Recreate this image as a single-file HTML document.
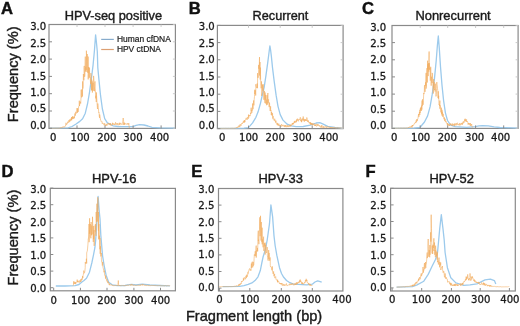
<!DOCTYPE html><html><head><meta charset="utf-8"><style>html,body{margin:0;padding:0;background:#fff;}svg{display:block;}.lt{font-family:"Liberation Sans",Arial,sans-serif;font-weight:bold;font-size:16.6px;fill:#111;stroke:#111;stroke-width:0.45px;}.ti{font-family:"Liberation Sans",Arial,sans-serif;font-size:12.7px;fill:#1a1a1a;stroke:#1a1a1a;stroke-width:0.4px;}.tk{font-family:"DejaVu Sans",sans-serif;font-size:10.1px;fill:#1a1a1a;stroke:#1a1a1a;stroke-width:0.3px;}.al{font-family:"Liberation Sans",Arial,sans-serif;font-size:14.6px;fill:#1a1a1a;stroke:#1a1a1a;stroke-width:0.4px;}.lg{font-family:"Liberation Sans",Arial,sans-serif;font-size:8.45px;fill:#1a1a1a;stroke:#1a1a1a;stroke-width:0.2px;}</style></head><body>
<svg width="520" height="326" viewBox="0 0 520 326">
<defs><filter id="bl" x="-5%" y="-5%" width="110%" height="110%"><feGaussianBlur stdDeviation="0.4"/></filter></defs>
<rect width="520" height="326" fill="#fff"/>
<rect x="49.0" y="24.5" width="126.4" height="103.9" fill="none" stroke="#8a8a8a" stroke-width="1.2"/>
<g filter="url(#bl)">
<path d="M49.5,128.2 L68.0,127.9 L72.0,126.5 L75.7,124.2 L79.8,121.4 L82.6,118.7 L85.3,113.2 L87.6,103.5 L89.5,92.4 L91.4,78.6 L93.1,64.8 L94.4,51.0 L95.6,34.9 L96.4,42.0 L97.3,51.5 L97.8,67.6 L99.1,81.4 L100.5,95.2 L102.4,109.0 L104.7,118.7 L107.4,122.8 L110.2,124.2 L113.0,125.8 L118.0,126.5 L125.0,126.6 L131.0,126.6 L133.5,126.3 L136.0,125.3 L139.6,124.6 L144.0,125.0 L148.0,126.0 L152.0,127.3 L160.0,127.9 L175.0,128.1" fill="none" stroke="#9ccaec" stroke-width="1.3" stroke-linejoin="round"/>
<path d="M49.5,128.2 L49.5,128.2 L49.8,128.2 L50.1,128.2 L50.4,128.2 L50.7,128.2 L51.0,128.2 L51.3,128.2 L51.6,128.2 L51.9,128.2 L52.2,128.2 L52.5,128.3 L52.8,128.2 L53.1,128.2 L53.4,128.2 L53.7,128.2 L54.0,128.1 L54.3,128.2 L54.6,128.2 L54.9,128.2 L55.2,128.2 L55.5,128.2 L55.8,128.0 L56.1,128.2 L56.4,128.1 L56.7,128.1 L57.0,128.0 L57.3,128.2 L57.6,128.1 L57.9,128.2 L58.2,128.2 L58.5,128.1 L58.8,128.2 L59.1,128.1 L59.4,128.2 L59.7,128.1 L60.0,128.2 L60.0,127.9 L60.3,128.1 L60.6,127.7 L60.9,127.6 L61.2,127.6 L61.5,128.0 L61.8,127.5 L62.1,127.6 L62.4,127.2 L62.7,127.4 L63.0,127.1 L63.0,126.5 L63.3,126.8 L63.6,127.0 L63.9,126.8 L64.2,127.3 L64.5,126.6 L64.8,126.7 L65.1,126.2 L65.4,126.1 L65.7,125.1 L66.0,123.4 L66.0,122.8 L66.3,124.8 L66.6,124.7 L66.9,124.3 L67.2,123.3 L67.5,123.3 L67.8,121.7 L68.1,122.9 L68.4,122.1 L68.7,121.1 L69.0,120.1 L69.3,122.0 L69.6,122.1 L69.9,119.3 L70.2,121.2 L70.5,119.9 L70.8,118.7 L71.1,119.0 L71.4,120.2 L71.6,117.2 L71.7,120.3 L72.0,117.0 L72.3,118.9 L72.6,116.2 L72.9,118.6 L73.2,116.8 L73.5,118.6 L73.8,118.7 L74.1,116.6 L74.4,118.2 L74.7,115.0 L75.0,113.4 L75.3,115.7 L75.6,112.3 L75.7,111.8 L75.9,112.7 L76.2,113.1 L76.5,113.4 L76.8,109.8 L77.1,108.0 L77.4,112.8 L77.7,108.5 L78.0,112.0 L78.3,111.0 L78.6,106.6 L78.9,106.5 L79.2,106.2 L79.3,100.7 L79.5,106.0 L79.8,104.3 L80.1,102.5 L80.4,101.7 L80.7,103.5 L81.0,97.8 L81.2,89.7 L81.3,95.5 L81.6,97.4 L81.9,89.9 L82.2,89.2 L82.5,96.5 L82.6,81.4 L82.8,88.7 L83.1,86.7 L83.4,74.0 L83.7,79.7 L84.0,80.2 L84.0,67.6 L84.3,65.9 L84.6,76.8 L84.9,75.1 L85.2,59.8 L85.3,56.6 L85.5,71.6 L85.8,66.8 L86.1,70.2 L86.4,61.5 L86.4,50.7 L86.7,70.5 L87.0,72.0 L87.2,54.0 L87.3,55.4 L87.6,57.6 L87.9,72.9 L88.1,56.6 L88.2,79.4 L88.5,67.0 L88.8,73.4 L89.1,77.9 L89.4,74.7 L89.5,67.6 L89.7,76.9 L90.0,77.0 L90.3,79.0 L90.6,83.8 L90.9,79.8 L90.9,73.1 L91.2,82.8 L91.5,90.3 L91.8,79.7 L92.1,90.5 L92.2,81.4 L92.4,92.5 L92.7,85.6 L93.0,83.1 L93.3,90.8 L93.6,81.2 L93.6,75.9 L93.9,81.4 L94.2,86.5 L94.5,91.2 L94.8,83.1 L95.0,81.4 L95.1,88.1 L95.4,90.4 L95.7,98.4 L96.0,95.7 L96.3,102.0 L96.4,92.4 L96.6,96.6 L96.9,100.6 L97.2,105.4 L97.5,109.0 L97.8,107.7 L97.8,103.5 L98.1,107.5 L98.4,108.2 L98.7,112.5 L99.0,112.0 L99.3,116.5 L99.6,117.9 L99.7,114.5 L99.9,116.2 L100.2,117.5 L100.5,120.1 L100.8,120.3 L101.1,121.4 L101.4,121.0 L101.7,121.3 L101.9,121.4 L102.0,122.4 L102.3,123.8 L102.6,122.8 L102.9,123.2 L103.2,123.5 L103.5,123.7 L103.8,123.9 L104.1,125.2 L104.4,123.6 L104.7,123.2 L104.7,123.2 L105.0,125.7 L105.3,125.5 L105.6,125.7 L105.9,124.5 L106.2,125.6 L106.5,125.5 L106.8,123.9 L107.1,125.1 L107.4,125.3 L107.7,124.9 L108.0,124.5 L108.1,123.0 L108.3,124.0 L108.6,124.1 L108.9,123.8 L109.2,123.3 L109.5,124.6 L109.8,123.9 L110.1,125.1 L110.4,123.1 L110.7,125.3 L111.0,124.8 L111.3,125.3 L111.6,125.2 L111.9,125.2 L112.2,124.5 L112.3,122.8 L112.5,122.9 L112.8,124.8 L113.1,123.3 L113.4,123.6 L113.7,124.5 L114.0,124.1 L114.3,123.8 L114.6,124.9 L114.9,124.2 L115.2,123.5 L115.5,123.2 L115.6,122.3 L115.8,124.6 L116.1,123.8 L116.4,124.5 L116.7,123.6 L117.0,123.2 L117.3,124.1 L117.6,124.7 L117.9,123.2 L118.2,124.8 L118.5,125.1 L118.8,124.9 L119.1,124.9 L119.4,122.8 L119.7,124.6 L120.0,125.1 L120.0,122.8 L120.3,123.0 L120.6,123.6 L120.9,123.6 L121.2,124.2 L121.5,123.9 L121.8,124.0 L122.1,124.7 L122.4,122.5 L122.5,122.5 L122.7,121.5 L123.0,119.8 L123.2,118.0 L123.3,119.2 L123.6,120.9 L123.9,125.0 L123.9,122.5 L124.2,124.8 L124.5,122.9 L124.8,124.1 L125.1,123.7 L125.4,123.7 L125.7,123.8 L126.0,124.5 L126.3,124.4 L126.6,123.9 L126.9,123.5 L127.2,123.9 L127.5,123.4 L127.8,124.5 L128.1,124.9 L128.4,124.2 L128.7,123.3 L128.8,123.0 L129.0,125.6 L129.3,128.0 L129.3,127.8" fill="none" stroke="#f1ad5e" stroke-width="0.7" stroke-opacity="0.85" stroke-linejoin="round"/>
</g>
<path d="M49.0,24.5h3M49.0,41.8h3M49.0,59.1h3M49.0,76.4h3M49.0,93.7h3M49.0,111.0h3M49.0,128.3h3M77.0,128.4v-3M105.0,128.4v-3M133.1,128.4v-3M161.1,128.4v-3" stroke="#8a8a8a" stroke-width="1" fill="none"/>
<path d="M175.4,24.5h-2.5M175.4,41.8h-2.5M175.4,59.1h-2.5M175.4,76.4h-2.5M175.4,93.7h-2.5M175.4,111.0h-2.5M175.4,128.3h-2.5M77.0,24.5v2.5M105.0,24.5v2.5M133.1,24.5v2.5M161.1,24.5v2.5" stroke="#c4c4c4" stroke-width="0.9" fill="none"/>
<text class="lt" x="1.0" y="13.9">A</text>
<text class="ti" x="64.7" y="19.8" style="font-size:12.8px">HPV-seq positive</text>
<text class="tk" x="46.2" y="30.3" text-anchor="end">3.0</text>
<text class="tk" x="46.2" y="46.7" text-anchor="end">2.5</text>
<text class="tk" x="46.2" y="63.1" text-anchor="end">2.0</text>
<text class="tk" x="46.2" y="79.5" text-anchor="end">1.5</text>
<text class="tk" x="46.2" y="96.0" text-anchor="end">1.0</text>
<text class="tk" x="46.2" y="112.4" text-anchor="end">0.5</text>
<text class="tk" x="46.2" y="128.8" text-anchor="end">0.0</text>
<text class="tk" x="53.3" y="141" text-anchor="middle">0</text>
<text class="tk" x="80.1" y="141" text-anchor="middle">100</text>
<text class="tk" x="106.8" y="141" text-anchor="middle">200</text>
<text class="tk" x="133" y="141" text-anchor="middle">300</text>
<text class="tk" x="159.6" y="141" text-anchor="middle">400</text>
<rect x="217.4" y="25.4" width="125.7" height="103.2" fill="none" stroke="#8a8a8a" stroke-width="1.2"/>
<g filter="url(#bl)">
<path d="M217.6,128.4 L244.0,128.1 L248.5,127.6 L252.6,122.9 L255.9,117.3 L258.1,111.8 L260.4,103.5 L262.3,95.2 L264.2,87.0 L265.9,75.9 L267.8,62.1 L269.2,51.0 L269.9,45.8 L270.6,50.0 L271.4,56.6 L272.5,67.6 L274.2,81.4 L276.1,95.2 L278.0,106.3 L280.2,114.6 L283.0,120.1 L287.2,124.2 L291.3,125.8 L296.0,126.7 L303.2,126.5 L310.4,125.2 L316.2,123.0 L319.8,122.6 L322.7,123.8 L327.7,126.4 L334.9,127.4 L342.8,128.1" fill="none" stroke="#9ccaec" stroke-width="1.3" stroke-linejoin="round"/>
<path d="M217.6,128.4 L217.6,128.4 L217.9,128.4 L218.2,128.4 L218.5,128.4 L218.8,128.4 L219.1,128.4 L219.4,128.4 L219.7,128.4 L220.0,128.4 L220.3,128.4 L220.6,128.4 L220.9,128.4 L221.2,128.4 L221.5,128.4 L221.8,128.4 L222.1,128.4 L222.4,128.4 L222.7,128.4 L223.0,128.4 L223.3,128.3 L223.6,128.4 L223.9,128.4 L224.2,128.3 L224.5,128.4 L224.8,128.3 L225.1,128.3 L225.4,128.3 L225.7,128.3 L226.0,128.4 L226.3,128.3 L226.6,128.4 L226.9,128.3 L227.2,128.3 L227.5,128.4 L227.8,128.3 L228.1,128.3 L228.4,128.3 L228.7,128.3 L229.0,128.3 L229.3,128.3 L229.6,128.4 L229.9,128.3 L230.2,128.3 L230.5,128.3 L230.8,128.3 L231.1,128.3 L231.4,128.3 L231.7,128.2 L232.0,128.3 L232.3,128.2 L232.6,128.3 L232.9,128.2 L233.2,128.3 L233.5,128.2 L233.8,128.3 L234.0,128.2 L234.1,128.2 L234.4,128.2 L234.7,128.2 L235.0,128.1 L235.3,128.0 L235.6,128.0 L235.9,127.9 L236.2,127.9 L236.5,127.5 L236.8,127.7 L237.0,127.2 L237.1,127.4 L237.4,127.9 L237.7,127.9 L238.0,126.4 L238.3,126.4 L238.6,127.2 L238.9,126.8 L239.2,125.2 L239.5,126.8 L239.8,127.1 L240.1,125.6 L240.2,124.2 L240.4,125.1 L240.7,125.4 L241.0,125.9 L241.3,124.0 L241.6,123.8 L241.9,123.2 L242.2,124.0 L242.5,123.3 L242.8,122.5 L243.1,122.5 L243.4,121.2 L243.7,121.7 L244.0,123.0 L244.3,120.1 L244.3,121.8 L244.6,120.7 L244.9,122.1 L245.2,120.3 L245.5,119.6 L245.8,118.4 L246.1,118.5 L246.4,118.3 L246.7,118.1 L247.0,120.0 L247.3,117.5 L247.6,117.1 L247.9,118.2 L248.2,119.0 L248.5,114.6 L248.5,116.2 L248.8,117.6 L249.1,115.3 L249.4,115.5 L249.7,115.1 L250.0,116.1 L250.3,114.7 L250.6,112.8 L250.9,114.0 L251.2,107.7 L251.2,110.7 L251.5,110.0 L251.8,112.9 L252.1,109.6 L252.4,110.4 L252.6,103.5 L252.7,106.1 L253.0,109.2 L253.3,105.4 L253.6,100.5 L253.9,105.4 L254.2,99.6 L254.5,96.5 L254.8,89.7 L254.8,94.0 L255.1,90.3 L255.4,90.4 L255.7,95.5 L255.9,84.2 L256.0,86.5 L256.3,86.7 L256.6,87.8 L256.9,87.7 L257.2,83.5 L257.5,88.2 L257.6,73.1 L257.8,77.7 L258.1,77.9 L258.4,77.0 L258.7,64.9 L258.7,68.8 L259.0,68.4 L259.3,63.8 L259.5,57.1 L259.6,75.5 L259.9,65.7 L260.0,62.0 L260.2,79.5 L260.4,67.6 L260.5,74.6 L260.8,85.2 L261.1,88.3 L261.4,86.9 L261.5,81.4 L261.7,95.9 L262.0,92.8 L262.3,91.9 L262.6,84.6 L262.9,90.8 L263.1,84.2 L263.2,89.5 L263.5,93.3 L263.8,99.6 L264.1,99.8 L264.4,90.9 L264.7,99.7 L265.0,103.1 L265.1,92.5 L265.3,99.8 L265.6,94.9 L265.9,103.6 L266.2,99.6 L266.5,105.2 L266.8,104.5 L267.0,95.2 L267.1,104.2 L267.4,104.6 L267.7,94.8 L267.9,93.0 L268.0,103.1 L268.3,100.6 L268.6,99.4 L268.6,101.3 L268.9,104.6 L269.2,107.1 L269.5,102.6 L269.8,107.7 L270.1,110.9 L270.4,109.8 L270.6,106.3 L270.7,110.8 L271.0,110.2 L271.3,115.0 L271.6,111.9 L271.9,115.1 L272.2,115.8 L272.5,113.2 L272.5,113.2 L272.8,118.6 L273.1,116.1 L273.4,119.6 L273.7,119.9 L274.0,120.3 L274.3,120.7 L274.6,120.0 L274.7,118.7 L274.9,120.6 L275.2,120.7 L275.5,122.5 L275.8,120.5 L276.1,121.3 L276.4,123.8 L276.7,123.9 L277.0,124.1 L277.3,125.1 L277.5,122.9 L277.6,124.5 L277.9,125.3 L278.2,124.5 L278.5,125.6 L278.8,123.6 L279.1,124.8 L279.4,125.2 L279.7,125.8 L280.0,125.0 L280.3,125.7 L280.6,126.4 L280.9,125.3 L281.2,124.8 L281.5,124.3 L281.6,124.2 L281.8,126.5 L282.1,125.7 L282.4,125.5 L282.7,125.9 L283.0,124.9 L283.3,125.3 L283.6,125.3 L283.9,125.4 L284.2,126.9 L284.5,125.5 L284.8,125.1 L285.1,127.1 L285.4,126.4 L285.7,125.0 L286.0,126.8 L286.3,126.9 L286.6,126.8 L286.9,127.1 L287.2,125.1 L287.2,126.3 L287.5,125.8 L287.8,127.0 L288.1,126.7 L288.4,126.8 L288.7,125.5 L289.0,125.9 L289.3,126.6 L289.6,125.8 L289.9,126.3 L290.2,124.5 L290.2,125.9 L290.5,126.3 L290.8,125.1 L291.1,125.2 L291.4,125.7 L291.7,124.3 L292.0,123.6 L292.3,124.6 L292.6,123.0 L292.9,124.5 L293.2,122.9 L293.5,124.1 L293.8,123.1 L294.1,121.8 L294.4,122.5 L294.5,120.9 L294.7,122.7 L295.0,122.0 L295.3,122.1 L295.6,121.3 L295.9,122.5 L296.2,120.3 L296.5,121.8 L296.8,119.3 L297.1,120.7 L297.4,118.7 L297.4,119.1 L297.7,119.2 L298.0,120.5 L298.3,121.3 L298.6,119.4 L298.9,119.6 L299.2,119.7 L299.5,120.0 L299.8,119.0 L300.1,118.9 L300.3,117.3 L300.4,120.6 L300.7,120.1 L301.0,119.9 L301.3,121.7 L301.5,119.5 L301.6,122.2 L301.9,120.4 L302.2,118.4 L302.5,119.1 L302.8,120.5 L303.1,117.6 L303.2,116.5 L303.4,118.0 L303.7,120.5 L304.0,118.9 L304.3,121.7 L304.5,119.5 L304.6,120.3 L304.9,120.5 L305.2,120.9 L305.5,119.2 L305.8,121.0 L306.1,119.8 L306.4,120.6 L306.7,120.4 L306.8,117.5 L307.0,118.3 L307.3,121.2 L307.6,121.7 L307.9,120.7 L308.0,120.0 L308.2,121.9 L308.5,121.2 L308.8,122.4 L309.1,123.1 L309.4,122.5 L309.7,123.2 L310.0,122.4 L310.3,124.5 L310.4,122.3 L310.6,124.1 L310.9,124.7 L311.2,122.9 L311.5,124.6 L311.8,123.0 L312.1,124.4 L312.4,123.6 L312.7,125.3 L313.0,123.4 L313.3,124.5 L313.6,124.6 L313.9,124.4 L314.2,123.6 L314.5,125.2 L314.8,126.0 L315.1,124.7 L315.4,126.0 L315.7,124.8 L316.0,124.7 L316.2,123.8 L316.3,125.2 L316.6,126.4 L316.9,126.1 L317.2,125.8 L317.5,124.3 L317.8,125.6 L318.1,124.4 L318.4,124.6 L318.7,125.6 L319.0,125.3 L319.3,125.0 L319.6,126.2 L319.9,126.8 L320.2,127.2 L320.5,127.3 L320.8,126.2 L321.1,125.6 L321.4,127.5 L321.7,126.4 L321.9,125.2 L322.0,126.2 L322.3,127.3 L322.6,126.8 L322.9,127.6 L323.2,127.1 L323.5,127.6 L323.8,126.1 L324.1,127.6 L324.4,127.0 L324.7,127.3 L325.0,126.7 L325.3,126.6 L325.6,126.7 L325.9,126.6 L326.2,127.8 L326.5,126.6 L326.8,126.9 L327.1,127.5 L327.4,126.9 L327.7,126.6 L327.7,127.0 L328.0,127.1 L328.3,127.1 L328.6,126.7 L328.9,127.7 L329.2,127.6 L329.5,127.3 L329.8,127.9 L330.1,127.6 L330.4,127.2 L330.7,128.0 L331.0,127.3 L331.3,127.9 L331.6,127.9 L331.9,127.1 L332.2,128.0 L332.5,127.6 L332.8,127.7 L333.1,128.1 L333.4,127.7 L333.7,127.5 L334.0,127.4 L334.3,128.1 L334.6,127.8 L334.9,127.4 L334.9,128.0 L335.2,127.9 L335.5,128.1 L335.8,128.1 L336.1,128.1 L336.4,127.9 L336.7,128.1 L337.0,127.8 L337.3,127.6 L337.6,128.0 L337.9,127.6 L338.2,128.2 L338.5,127.8 L338.8,127.9 L339.1,127.8 L339.4,127.9 L339.7,128.0 L340.0,128.1 L340.3,127.7 L340.6,127.9 L340.9,127.9 L341.2,128.2 L341.5,128.0 L341.8,128.0 L342.1,128.2 L342.4,128.0 L342.7,128.0 L342.8,127.8" fill="none" stroke="#f1ad5e" stroke-width="0.7" stroke-opacity="0.85" stroke-linejoin="round"/>
</g>
<path d="M217.4,25.4h3M217.4,42.6h3M217.4,59.8h3M217.4,77.0h3M217.4,94.2h3M217.4,111.4h3M217.4,128.6h3M248.5,128.6v-3M280.2,128.6v-3M312.2,128.6v-3" stroke="#8a8a8a" stroke-width="1" fill="none"/>
<path d="M343.1,25.4h-2.5M343.1,42.6h-2.5M343.1,59.8h-2.5M343.1,77.0h-2.5M343.1,94.2h-2.5M343.1,111.4h-2.5M343.1,128.6h-2.5M248.5,25.4v2.5M280.2,25.4v2.5M312.2,25.4v2.5" stroke="#c4c4c4" stroke-width="0.9" fill="none"/>
<text class="lt" x="188.8" y="13.9">B</text>
<text class="ti" x="252.6" y="19.6" style="font-size:12.7px">Recurrent</text>
<text class="tk" x="214.8" y="30.3" text-anchor="end">3.0</text>
<text class="tk" x="214.8" y="46.7" text-anchor="end">2.5</text>
<text class="tk" x="214.8" y="63.1" text-anchor="end">2.0</text>
<text class="tk" x="214.8" y="79.5" text-anchor="end">1.5</text>
<text class="tk" x="214.8" y="95.9" text-anchor="end">1.0</text>
<text class="tk" x="214.8" y="112.2" text-anchor="end">0.5</text>
<text class="tk" x="214.8" y="128.6" text-anchor="end">0.0</text>
<text class="tk" x="222.1" y="141" text-anchor="middle">0</text>
<text class="tk" x="248.6" y="141" text-anchor="middle">100</text>
<text class="tk" x="275.2" y="141" text-anchor="middle">200</text>
<text class="tk" x="302" y="141" text-anchor="middle">300</text>
<text class="tk" x="328.9" y="141" text-anchor="middle">400</text>
<rect x="392.0" y="25.5" width="126.1" height="102.9" fill="none" stroke="#8a8a8a" stroke-width="1.2"/>
<g filter="url(#bl)">
<path d="M392.2,128.3 L414.0,128.1 L419.9,127.5 L424.5,122.0 L427.6,115.9 L430.1,106.7 L432.2,94.4 L434.4,79.1 L436.2,60.7 L437.4,45.3 L438.3,36.0 L439.3,48.4 L440.5,66.8 L442.0,85.2 L443.6,100.6 L445.4,112.8 L447.5,120.5 L450.6,125.1 L455.2,126.6 L466.6,127.4 L475.3,126.6 L479.0,125.9 L482.5,125.6 L488.3,125.9 L494.1,126.9 L499.8,127.5 L517.3,128.1" fill="none" stroke="#9ccaec" stroke-width="1.3" stroke-linejoin="round"/>
<path d="M392.2,128.3 L392.2,128.3 L392.5,128.3 L392.8,128.3 L393.1,128.3 L393.4,128.3 L393.7,128.3 L394.0,128.3 L394.3,128.3 L394.6,128.3 L394.9,128.3 L395.2,128.3 L395.5,128.3 L395.8,128.3 L396.1,128.3 L396.4,128.3 L396.7,128.3 L397.0,128.3 L397.3,128.3 L397.6,128.3 L397.9,128.2 L398.2,128.2 L398.5,128.2 L398.8,128.2 L399.1,128.3 L399.4,128.3 L399.7,128.2 L400.0,128.2 L400.3,128.2 L400.6,128.2 L400.9,128.2 L401.2,128.2 L401.5,128.2 L401.8,128.2 L402.1,128.2 L402.4,128.2 L402.7,128.3 L403.0,128.2 L403.3,128.2 L403.6,128.2 L403.9,128.2 L404.2,128.2 L404.5,128.2 L404.8,128.2 L405.1,128.2 L405.4,128.2 L405.7,128.2 L406.0,128.1 L406.0,128.1 L406.3,128.2 L406.6,128.0 L406.9,127.8 L407.2,127.9 L407.5,128.0 L407.8,127.9 L408.1,127.7 L408.4,127.7 L408.7,127.4 L409.0,127.0 L409.0,127.7 L409.3,127.3 L409.6,126.8 L409.9,126.7 L410.2,126.5 L410.5,127.3 L410.8,127.5 L411.1,127.3 L411.4,126.2 L411.7,125.9 L412.0,127.5 L412.3,125.1 L412.3,126.2 L412.6,125.3 L412.9,126.0 L413.2,125.7 L413.5,125.1 L413.8,124.5 L414.1,123.7 L414.4,123.8 L414.7,123.3 L415.0,123.4 L415.3,122.5 L415.6,121.9 L415.9,122.9 L416.2,120.4 L416.5,121.8 L416.8,120.6 L416.9,119.0 L417.1,121.1 L417.4,120.1 L417.7,118.9 L418.0,118.4 L418.3,116.0 L418.6,114.0 L418.9,116.8 L419.2,113.7 L419.5,112.0 L419.8,115.0 L419.9,109.8 L420.1,113.0 L420.4,108.1 L420.7,110.6 L421.0,106.9 L421.3,110.9 L421.6,105.6 L421.9,109.6 L422.1,100.6 L422.2,106.1 L422.5,99.3 L422.8,101.1 L423.1,104.8 L423.4,100.9 L423.7,93.1 L424.0,94.1 L424.3,91.2 L424.5,85.2 L424.6,86.5 L424.9,91.9 L425.2,91.4 L425.5,82.3 L425.8,85.8 L426.1,72.9 L426.1,88.6 L426.4,87.4 L426.7,72.7 L427.0,68.1 L427.3,82.5 L427.6,60.7 L427.6,69.5 L427.9,64.1 L428.2,76.1 L428.5,63.2 L428.8,71.7 L429.1,51.5 L429.1,69.8 L429.4,63.2 L429.7,69.5 L430.0,68.2 L430.3,80.6 L430.6,73.1 L430.7,66.8 L430.9,74.5 L431.2,85.7 L431.5,76.7 L431.8,80.7 L432.1,83.0 L432.2,72.9 L432.4,73.8 L432.7,81.3 L433.0,89.4 L433.3,93.5 L433.6,85.4 L433.7,79.1 L433.9,88.3 L434.2,82.1 L434.5,89.9 L434.8,88.8 L435.1,91.5 L435.3,83.7 L435.4,89.0 L435.7,89.0 L436.0,96.4 L436.3,94.6 L436.6,88.8 L436.8,82.1 L436.9,84.5 L437.2,85.9 L437.5,88.5 L437.8,90.7 L438.1,98.0 L438.3,91.3 L438.4,98.8 L438.7,95.8 L439.0,104.9 L439.3,104.4 L439.6,106.0 L439.9,100.6 L439.9,108.7 L440.2,105.3 L440.5,110.6 L440.8,112.0 L441.1,112.5 L441.4,107.7 L441.7,114.1 L442.0,109.8 L442.0,115.6 L442.3,111.7 L442.6,116.4 L442.9,116.8 L443.2,113.8 L443.5,117.7 L443.8,118.6 L444.1,119.3 L444.4,117.5 L444.5,117.4 L444.7,121.1 L445.0,118.8 L445.3,119.4 L445.6,122.2 L445.9,121.6 L446.2,121.3 L446.5,122.5 L446.8,123.6 L447.1,123.3 L447.4,125.4 L447.5,123.2 L447.7,125.1 L448.0,124.5 L448.3,124.4 L448.6,123.8 L448.9,125.9 L449.2,124.4 L449.5,125.9 L449.8,125.0 L450.1,125.0 L450.4,124.1 L450.6,123.5 L450.7,125.0 L451.0,123.9 L451.3,124.9 L451.6,125.3 L451.9,125.9 L452.2,124.3 L452.3,123.5 L452.5,124.1 L452.8,125.6 L453.1,123.9 L453.4,124.0 L453.7,124.7 L454.0,124.6 L454.3,125.8 L454.6,123.5 L454.9,125.5 L455.2,124.5 L455.5,123.6 L455.8,123.8 L456.1,125.4 L456.4,123.6 L456.7,124.2 L457.0,123.0 L457.3,122.8 L457.3,124.3 L457.6,124.8 L457.9,124.9 L458.2,123.9 L458.5,124.2 L458.8,125.1 L459.1,125.2 L459.4,124.3 L459.7,123.2 L460.0,125.4 L460.3,124.0 L460.6,124.4 L460.9,123.2 L461.2,123.1 L461.5,123.4 L461.8,124.6 L462.0,123.0 L462.1,123.8 L462.4,124.6 L462.7,122.6 L463.0,123.5 L463.3,121.4 L463.6,122.0 L463.9,122.9 L464.2,120.9 L464.5,120.7 L464.8,119.4 L465.1,121.6 L465.2,118.7 L465.4,120.5 L465.7,119.9 L466.0,121.0 L466.3,120.3 L466.6,119.4 L466.6,122.0 L466.9,121.4 L467.2,121.0 L467.5,122.2 L467.8,122.3 L468.0,122.5 L468.1,124.6 L468.4,123.0 L468.7,124.1 L469.0,124.4 L469.3,123.2 L469.6,124.7 L469.9,124.7 L470.2,125.4 L470.3,123.0 L470.5,125.6 L470.8,125.9 L471.1,125.1 L471.4,125.2 L471.7,124.0 L471.7,125.3 L472.0,125.9 L472.3,127.6 L472.4,127.4" fill="none" stroke="#f1ad5e" stroke-width="0.7" stroke-opacity="0.85" stroke-linejoin="round"/>
</g>
<path d="M392.0,25.5h3M392.0,42.6h3M392.0,59.8h3M392.0,76.9h3M392.0,94.1h3M392.0,111.2h3M392.0,128.4h3M420.2,128.4v-3M447.7,128.4v-3M475.6,128.4v-3M503.7,128.4v-3" stroke="#8a8a8a" stroke-width="1" fill="none"/>
<path d="M518.1,25.5h-2.5M518.1,42.6h-2.5M518.1,59.8h-2.5M518.1,76.9h-2.5M518.1,94.1h-2.5M518.1,111.2h-2.5M518.1,128.4h-2.5M420.2,25.5v2.5M447.7,25.5v2.5M475.6,25.5v2.5M503.7,25.5v2.5" stroke="#c4c4c4" stroke-width="0.9" fill="none"/>
<text class="lt" x="362.0" y="13.9">C</text>
<text class="ti" x="415.4" y="19.9" style="font-size:12.92px">Nonrecurrent</text>
<text class="tk" x="386.2" y="30.6" text-anchor="end">3.0</text>
<text class="tk" x="386.2" y="47.0" text-anchor="end">2.5</text>
<text class="tk" x="386.2" y="63.4" text-anchor="end">2.0</text>
<text class="tk" x="386.2" y="79.8" text-anchor="end">1.5</text>
<text class="tk" x="386.2" y="96.2" text-anchor="end">1.0</text>
<text class="tk" x="386.2" y="112.5" text-anchor="end">0.5</text>
<text class="tk" x="386.2" y="128.9" text-anchor="end">0.0</text>
<text class="tk" x="394.1" y="141" text-anchor="middle">0</text>
<text class="tk" x="420.6" y="141" text-anchor="middle">100</text>
<text class="tk" x="447.3" y="141" text-anchor="middle">200</text>
<text class="tk" x="474.6" y="141" text-anchor="middle">300</text>
<text class="tk" x="500.6" y="141" text-anchor="middle">400</text>
<rect x="50.3" y="188.4" width="125.1" height="102.4" fill="none" stroke="#8a8a8a" stroke-width="1.2"/>
<g filter="url(#bl)">
<path d="M55.8,286.0 L65.0,286.0 L75.0,285.6 L79.0,284.5 L81.9,282.1 L84.0,280.5 L86.5,278.3 L89.5,272.2 L91.8,263.0 L93.4,255.3 L94.9,247.7 L95.7,240.0 L96.9,220.0 L98.1,196.5 L99.3,212.0 L100.0,218.7 L100.8,235.0 L101.7,245.5 L102.6,256.0 L104.3,266.5 L106.1,275.2 L108.7,282.2 L112.2,284.8 L117.4,285.7 L125.0,285.5 L128.0,284.8 L131.5,284.3 L136.0,285.0 L142.3,284.2 L150.0,285.0 L160.0,285.5 L169.9,285.8" fill="none" stroke="#9ccaec" stroke-width="1.3" stroke-linejoin="round"/>
<path d="M72.9,285.8 L72.9,285.7 L73.2,285.5 L73.5,284.9 L73.7,281.3 L73.8,283.8 L74.1,283.7 L74.4,284.0 L74.7,281.8 L75.0,283.7 L75.3,283.0 L75.5,282.2 L75.6,284.1 L75.9,282.9 L76.2,282.8 L76.5,282.3 L76.8,281.9 L77.1,282.0 L77.2,279.6 L77.4,282.2 L77.7,280.9 L78.0,282.1 L78.3,282.3 L78.6,281.3 L78.9,280.7 L79.2,281.8 L79.5,282.5 L79.8,282.0 L79.9,280.5 L80.1,280.9 L80.4,281.9 L80.7,280.6 L80.9,279.3 L81.0,281.5 L81.3,279.1 L81.6,279.6 L81.9,278.5 L82.2,279.6 L82.5,276.7 L82.5,276.0 L82.8,278.0 L83.1,275.5 L83.4,274.3 L83.7,272.4 L83.8,270.6 L84.0,272.5 L84.3,273.2 L84.6,272.4 L84.9,270.9 L85.2,267.6 L85.3,262.0 L85.5,263.3 L85.8,263.8 L86.1,263.5 L86.4,258.7 L86.7,263.4 L86.7,253.0 L87.0,251.7 L87.3,251.1 L87.6,248.1 L87.9,244.9 L88.2,240.3 L88.2,238.6 L88.5,238.5 L88.8,236.1 L89.0,224.0 L89.1,242.2 L89.4,233.2 L89.6,218.3 L89.7,233.8 L90.0,230.4 L90.3,228.8 L90.3,224.0 L90.6,235.9 L90.9,238.3 L91.1,222.0 L91.2,224.5 L91.5,235.3 L91.8,225.5 L92.1,234.4 L92.4,226.8 L92.5,216.8 L92.7,223.7 L93.0,226.8 L93.3,241.9 L93.3,226.0 L93.6,239.1 L93.9,232.0 L94.0,230.0 L94.2,245.9 L94.5,234.5 L94.8,233.4 L95.1,225.5 L95.4,231.6 L95.4,224.0 L95.7,232.9 L96.0,235.8 L96.2,212.0 L96.3,220.0 L96.6,221.7 L96.9,207.2 L96.9,203.7 L97.2,221.6 L97.5,210.0 L97.8,210.3 L97.8,197.3 L98.1,212.9 L98.4,230.6 L98.5,212.0 L98.7,239.4 L98.9,224.0 L99.0,229.3 L99.3,238.7 L99.6,235.7 L99.9,249.3 L100.0,238.0 L100.2,253.8 L100.5,246.3 L100.8,256.4 L101.1,255.1 L101.3,253.0 L101.4,259.1 L101.7,261.8 L102.0,261.7 L102.3,265.5 L102.6,264.6 L102.7,262.0 L102.9,267.3 L103.2,267.8 L103.5,269.7 L103.8,269.5 L104.1,272.3 L104.2,270.6 L104.4,272.1 L104.7,275.3 L105.0,275.4 L105.3,276.3 L105.6,278.6 L105.6,275.5 L105.9,277.0 L106.2,278.8 L106.5,279.7 L106.8,280.6 L107.0,279.3 L107.1,281.6 L107.4,281.1 L107.7,282.9 L108.0,282.8 L108.3,281.7 L108.6,283.6 L108.9,283.9 L109.2,285.1 L109.5,284.9 L109.6,283.5 L109.8,284.9 L110.1,285.0 L110.4,285.1 L110.7,284.8 L111.0,285.0 L111.3,285.1 L111.6,284.6 L111.9,285.3 L112.2,285.3 L112.5,285.4 L112.8,285.6 L113.1,285.7 L113.1,285.3 L113.4,285.5 L113.7,285.6 L114.0,285.4 L114.3,285.8 L114.6,285.6 L114.9,285.6 L115.2,285.7 L115.5,285.2 L115.8,285.3 L116.1,285.4 L116.4,285.4 L116.7,285.4 L117.0,285.5 L117.3,285.5 L117.5,285.0 L117.6,285.4 L117.9,284.6 L118.2,282.3 L118.3,280.5 L118.5,284.1 L118.8,285.2 L119.0,285.0 L119.1,285.7 L119.4,285.0 L119.7,285.5 L120.0,285.2 L120.3,285.7 L120.6,285.7 L120.9,285.6 L121.2,285.4 L121.5,285.7 L121.8,285.5 L122.1,285.6 L122.4,285.3 L122.7,285.3 L123.0,285.7 L123.3,285.7 L123.6,285.5 L123.9,285.3 L124.2,285.5 L124.5,285.8 L124.8,285.4 L125.0,285.3 L125.1,285.7 L125.4,285.5 L125.7,285.8 L126.0,285.4 L126.3,285.7 L126.6,285.4 L126.9,284.9 L127.2,285.3 L127.5,285.3 L127.8,284.9 L128.1,284.8 L128.4,285.3 L128.7,285.4 L129.0,285.4 L129.3,284.9 L129.6,284.7 L129.9,285.0 L130.2,285.3 L130.5,284.6 L130.8,285.4 L131.1,285.5 L131.4,284.6 L131.5,284.0 L131.7,284.4 L132.0,285.0 L132.3,284.5 L132.6,285.4 L132.9,285.1 L133.2,285.0 L133.5,285.5 L133.8,285.4 L134.1,285.4 L134.4,284.8 L134.7,285.2 L135.0,285.2 L135.3,285.6 L135.6,285.2 L135.9,285.1 L136.0,285.0 L136.2,285.4 L136.5,285.2 L136.8,285.5 L137.1,285.2 L137.4,285.0 L137.7,285.4 L138.0,285.6 L138.3,285.4 L138.6,285.3 L138.9,284.8 L139.2,284.9 L139.5,285.3 L139.8,285.6 L140.1,285.1 L140.4,285.6 L140.7,284.6 L141.0,284.8 L141.3,284.8 L141.6,285.2 L141.9,284.8 L142.2,285.2 L142.3,284.2 L142.5,284.4 L142.8,285.2 L143.1,285.3 L143.4,284.7 L143.7,284.7 L144.0,285.0 L144.3,285.1 L144.6,285.1 L144.9,285.6 L145.2,284.8 L145.5,285.3 L145.8,285.2 L146.1,285.4 L146.4,285.1 L146.7,285.5 L147.0,285.6 L147.3,284.9 L147.6,285.2 L147.9,284.9 L148.2,285.5 L148.5,285.6 L148.8,285.4 L149.1,285.8 L149.4,285.7 L149.7,285.6 L150.0,285.2 L150.0,285.3 L150.3,285.4 L150.6,285.7 L150.9,285.5 L151.2,285.4 L151.5,285.2 L151.8,285.7 L152.1,285.4 L152.4,285.3 L152.7,285.6 L153.0,285.7 L153.3,285.6 L153.6,285.3 L153.9,285.8 L154.2,285.5 L154.5,285.6 L154.8,285.5 L155.1,285.5 L155.4,285.4 L155.7,285.7 L156.0,285.4 L156.3,285.7 L156.6,285.7 L156.9,285.8 L157.2,285.4 L157.5,285.7 L157.8,285.5 L158.1,285.4 L158.4,285.7 L158.7,285.6 L159.0,285.6 L159.3,285.5 L159.6,285.5 L159.9,285.5 L160.2,285.7 L160.5,285.4 L160.8,285.8 L161.1,285.7 L161.4,285.8 L161.7,285.8 L162.0,285.8 L162.3,285.8 L162.6,285.8 L162.9,285.8 L163.2,285.7 L163.5,285.8 L163.8,285.8 L164.1,285.8 L164.4,285.9 L164.7,285.8 L165.0,285.6 L165.3,285.9 L165.6,285.6 L165.9,285.6 L166.2,285.8 L166.5,285.9 L166.8,285.8 L167.1,285.6 L167.4,285.7 L167.7,285.7 L168.0,285.8 L168.3,285.6 L168.6,285.8 L168.9,285.7 L169.2,285.6 L169.5,285.9 L169.8,285.9 L169.9,285.6" fill="none" stroke="#f1ad5e" stroke-width="0.7" stroke-opacity="0.85" stroke-linejoin="round"/>
</g>
<path d="M50.3,188.1h3M50.3,204.7h3M50.3,221.3h3M50.3,237.9h3M50.3,254.5h3M50.3,271.1h3M50.3,287.7h3M53.7,290.8v-3M80.4,290.8v-3M107.0,290.8v-3M133.9,290.8v-3M160.5,290.8v-3" stroke="#8a8a8a" stroke-width="1" fill="none"/>
<text class="lt" x="1.6" y="176.7">D</text>
<text class="ti" x="92" y="183.1" style="font-size:12.9px">HPV-16</text>
<text class="tk" x="46.3" y="192.7" text-anchor="end">3.0</text>
<text class="tk" x="46.3" y="209.1" text-anchor="end">2.5</text>
<text class="tk" x="46.3" y="225.6" text-anchor="end">2.0</text>
<text class="tk" x="46.3" y="242.1" text-anchor="end">1.5</text>
<text class="tk" x="46.3" y="258.5" text-anchor="end">1.0</text>
<text class="tk" x="46.3" y="275.0" text-anchor="end">0.5</text>
<text class="tk" x="46.3" y="291.5" text-anchor="end">0.0</text>
<text class="tk" x="53.7" y="303.6" text-anchor="middle">0</text>
<text class="tk" x="80.6" y="303.6" text-anchor="middle">100</text>
<text class="tk" x="106.9" y="303.6" text-anchor="middle">200</text>
<text class="tk" x="133.9" y="303.6" text-anchor="middle">300</text>
<text class="tk" x="160.6" y="303.6" text-anchor="middle">400</text>
<rect x="218.5" y="188.5" width="124.4" height="102.5" fill="none" stroke="#8a8a8a" stroke-width="1.2"/>
<g filter="url(#bl)">
<path d="M222.5,286.6 L239.6,286.3 L244.0,285.6 L248.1,284.4 L251.9,282.9 L255.0,280.6 L258.0,276.8 L260.3,270.6 L261.8,263.0 L263.1,256.8 L264.1,253.8 L265.7,247.7 L267.2,240.0 L269.5,223.7 L270.9,204.8 L272.6,216.6 L274.0,235.9 L275.2,246.0 L276.8,255.2 L279.5,267.7 L281.5,273.5 L283.7,277.3 L286.5,280.5 L289.2,282.3 L293.5,284.2 L306.9,284.9 L312.3,284.2 L315.0,282.0 L317.7,280.9 L321.7,282.2" fill="none" stroke="#9ccaec" stroke-width="1.3" stroke-linejoin="round"/>
<path d="M219.0,286.6 L219.0,286.6 L219.3,286.6 L219.6,286.6 L219.9,286.6 L220.2,286.6 L220.5,286.6 L220.8,286.6 L221.1,286.6 L221.4,286.6 L221.7,286.6 L222.0,286.6 L222.3,286.6 L222.6,286.6 L222.9,286.6 L223.2,286.6 L223.5,286.6 L223.8,286.6 L224.1,286.6 L224.4,286.6 L224.7,286.6 L225.0,286.6 L225.3,286.6 L225.6,286.6 L225.9,286.6 L226.2,286.6 L226.5,286.6 L226.8,286.6 L227.1,286.6 L227.4,286.6 L227.7,286.6 L228.0,286.5 L228.3,286.6 L228.6,286.6 L228.9,286.6 L229.2,286.6 L229.5,286.5 L229.8,286.6 L230.1,286.6 L230.4,286.6 L230.7,286.6 L231.0,286.5 L231.3,286.6 L231.6,286.6 L231.9,286.6 L232.2,286.6 L232.5,286.5 L232.8,286.6 L233.0,286.5 L233.1,286.5 L233.4,286.5 L233.7,286.4 L234.0,286.4 L234.3,286.2 L234.6,286.3 L234.9,286.4 L235.2,286.1 L235.5,286.3 L235.8,286.3 L236.0,285.8 L236.1,286.2 L236.4,286.1 L236.7,285.7 L237.0,285.8 L237.3,286.2 L237.6,286.2 L237.9,285.7 L238.2,285.4 L238.5,286.1 L238.8,285.4 L238.9,284.3 L239.1,285.7 L239.4,283.9 L239.7,284.1 L240.0,285.0 L240.3,284.0 L240.6,284.2 L240.9,283.0 L241.2,283.7 L241.5,281.0 L241.8,281.3 L242.1,281.9 L242.4,281.2 L242.7,281.1 L243.0,280.3 L243.3,280.4 L243.4,278.3 L243.6,280.3 L243.9,278.8 L244.2,277.4 L244.5,277.9 L244.8,277.9 L245.1,279.4 L245.4,279.1 L245.7,278.0 L246.0,275.8 L246.3,278.1 L246.6,274.9 L246.9,274.6 L247.2,276.8 L247.5,274.8 L247.8,274.7 L247.9,272.4 L248.1,273.5 L248.4,271.1 L248.7,271.3 L249.0,270.2 L249.3,269.1 L249.6,268.5 L249.9,268.9 L250.2,270.3 L250.5,269.6 L250.8,270.7 L251.1,270.3 L251.4,263.5 L251.4,267.9 L251.7,267.5 L252.0,261.9 L252.3,261.8 L252.6,267.3 L252.9,267.3 L253.2,261.9 L253.5,265.6 L253.8,265.0 L254.1,258.5 L254.4,254.5 L254.4,255.6 L254.7,255.0 L255.0,253.1 L255.3,251.2 L255.6,256.1 L255.9,251.1 L256.2,245.6 L256.2,257.6 L256.5,251.8 L256.8,250.3 L257.1,251.4 L257.4,247.9 L257.7,251.3 L258.0,235.1 L258.3,230.7 L258.3,240.8 L258.6,239.7 L258.9,244.2 L259.2,232.8 L259.5,229.3 L259.8,217.3 L259.8,225.8 L260.1,236.2 L260.4,228.8 L260.5,215.8 L260.7,221.9 L261.0,240.6 L261.3,222.0 L261.3,225.7 L261.6,234.9 L261.9,242.2 L262.1,227.7 L262.2,244.3 L262.5,239.4 L262.8,243.0 L263.1,247.3 L263.4,237.4 L263.6,236.7 L263.7,250.2 L264.0,251.0 L264.3,248.0 L264.6,243.2 L264.9,246.5 L265.1,242.6 L265.2,254.5 L265.5,246.8 L265.8,244.8 L266.1,246.8 L266.4,252.5 L266.7,253.0 L267.0,251.2 L267.2,247.1 L267.3,255.0 L267.6,257.2 L267.9,259.9 L268.2,260.7 L268.5,252.8 L268.7,250.1 L268.8,259.1 L269.1,252.9 L269.4,257.2 L269.7,260.7 L270.0,257.6 L270.2,257.5 L270.3,265.5 L270.6,267.1 L270.9,266.8 L271.2,267.0 L271.5,267.6 L271.8,270.2 L272.1,269.9 L272.3,266.4 L272.4,269.9 L272.7,272.2 L273.0,273.9 L273.3,273.9 L273.6,271.4 L273.9,276.2 L274.2,275.2 L274.5,275.2 L274.6,273.9 L274.8,278.1 L275.1,277.2 L275.4,277.0 L275.7,276.6 L276.0,279.7 L276.3,279.9 L276.6,280.0 L276.9,279.6 L277.2,280.1 L277.5,281.9 L277.6,279.8 L277.8,282.4 L278.1,282.0 L278.4,281.3 L278.7,281.4 L279.0,281.6 L279.3,283.4 L279.6,283.5 L279.9,284.0 L280.2,283.1 L280.5,284.1 L280.8,283.3 L281.1,284.3 L281.4,283.3 L281.7,284.3 L282.0,283.3 L282.1,283.2 L282.3,285.5 L282.6,284.7 L282.9,285.0 L283.2,285.5 L283.5,284.2 L283.8,284.3 L284.1,285.7 L284.4,284.6 L284.7,284.8 L285.0,285.7 L285.3,284.8 L285.6,284.9 L285.9,284.5 L286.2,283.7 L286.5,283.6 L286.5,285.1 L286.8,285.6 L287.1,285.6 L287.4,285.7 L287.7,285.1 L288.0,285.1 L288.3,285.1 L288.6,284.8 L288.9,285.0 L289.2,285.2 L289.5,284.6 L289.8,283.7 L290.1,285.1 L290.4,284.1 L290.7,283.8 L291.0,284.7 L291.3,284.2 L291.6,284.1 L291.9,285.0 L292.2,283.5 L292.5,284.0 L292.8,283.8 L293.0,283.5 L293.1,284.6 L293.4,284.5 L293.7,285.2 L294.0,284.9 L294.3,285.0 L294.6,284.4 L294.9,283.2 L295.2,284.8 L295.5,283.8 L295.8,284.8 L296.1,282.8 L296.4,284.0 L296.7,284.5 L297.0,282.0 L297.0,283.5 L297.3,283.1 L297.6,283.8 L297.9,282.5 L298.2,282.6 L298.5,282.2 L298.8,283.0 L299.1,281.4 L299.4,282.4 L299.7,280.4 L300.0,281.6 L300.2,279.5 L300.3,281.1 L300.6,281.8 L300.9,280.8 L301.2,282.2 L301.5,283.7 L301.8,282.6 L302.1,282.0 L302.4,284.0 L302.7,283.0 L303.0,283.0 L303.0,283.8 L303.3,284.4 L303.6,283.7 L303.9,283.8 L304.2,283.5 L304.5,282.0 L304.8,282.4 L305.1,282.7 L305.4,280.1 L305.7,281.5 L306.0,280.5 L306.2,278.8 L306.3,279.8 L306.6,281.2 L306.9,279.9 L307.2,282.6 L307.5,282.5 L307.8,283.0 L308.1,283.3 L308.4,284.3 L308.7,283.0 L309.0,283.0 L309.0,283.3 L309.3,284.9 L309.6,284.2 L309.9,285.6 L310.2,284.2 L310.5,285.2 L310.8,285.7 L311.1,284.8 L311.4,285.1 L311.7,285.7 L312.0,285.8 L312.3,285.6" fill="none" stroke="#f1ad5e" stroke-width="0.7" stroke-opacity="0.85" stroke-linejoin="round"/>
</g>
<path d="M218.5,188.5h3M218.5,205.1h3M218.5,221.7h3M218.5,238.3h3M218.5,254.9h3M218.5,271.5h3M218.5,288.1h3M219.4,291v-3M249.8,291v-3M281.3,291v-3M312.3,291v-3" stroke="#8a8a8a" stroke-width="1" fill="none"/>
<text class="lt" x="191.3" y="177.3">E</text>
<text class="ti" x="258.5" y="182.9" style="font-size:12.9px">HPV-33</text>
<text class="tk" x="214.4" y="192.6" text-anchor="end">3.0</text>
<text class="tk" x="214.4" y="209.0" text-anchor="end">2.5</text>
<text class="tk" x="214.4" y="225.5" text-anchor="end">2.0</text>
<text class="tk" x="214.4" y="242.0" text-anchor="end">1.5</text>
<text class="tk" x="214.4" y="258.4" text-anchor="end">1.0</text>
<text class="tk" x="214.4" y="274.9" text-anchor="end">0.5</text>
<text class="tk" x="214.4" y="291.4" text-anchor="end">0.0</text>
<text class="tk" x="219.4" y="302.7" text-anchor="middle">0</text>
<text class="tk" x="249.8" y="302.7" text-anchor="middle">100</text>
<text class="tk" x="281.1" y="302.7" text-anchor="middle">200</text>
<text class="tk" x="311.2" y="302.7" text-anchor="middle">300</text>
<text class="tk" x="342" y="302.7" text-anchor="middle">400</text>
<rect x="390.6" y="188.3" width="124.7" height="102.7" fill="none" stroke="#8a8a8a" stroke-width="1.2"/>
<g filter="url(#bl)">
<path d="M396.5,287.1 L412.5,286.6 L417.1,284.9 L423.8,281.2 L428.2,274.4 L432.2,266.0 L435.6,259.2 L437.5,252.5 L438.5,242.0 L439.7,228.9 L441.3,214.7 L443.0,228.9 L444.2,240.0 L445.1,252.5 L447.4,267.7 L450.8,277.8 L455.9,282.9 L461.4,284.5 L463.5,285.3 L470.0,284.8 L476.9,283.9 L481.0,281.9 L485.0,279.9 L490.4,279.2 L494.4,280.6 L495.8,283.9" fill="none" stroke="#9ccaec" stroke-width="1.3" stroke-linejoin="round"/>
<path d="M396.7,287.1 L396.7,287.1 L397.0,287.1 L397.3,287.1 L397.6,287.1 L397.9,287.0 L398.2,287.0 L398.5,287.0 L398.8,287.0 L399.1,287.1 L399.4,287.1 L399.7,287.0 L400.0,287.0 L400.3,287.0 L400.6,286.9 L400.9,287.0 L401.2,286.9 L401.5,286.9 L401.8,286.9 L402.1,286.9 L402.4,286.9 L402.7,286.8 L403.0,286.9 L403.3,286.8 L403.6,286.7 L403.9,287.0 L404.2,286.8 L404.5,286.9 L404.8,286.9 L405.1,286.9 L405.4,287.0 L405.5,286.6 L405.7,286.6 L406.0,286.7 L406.3,286.5 L406.6,286.8 L406.9,286.4 L407.2,286.4 L407.5,286.3 L407.8,286.6 L408.1,286.4 L408.4,286.7 L408.7,286.4 L409.0,286.4 L409.3,286.4 L409.6,286.0 L409.9,286.1 L410.2,285.9 L410.5,285.7 L410.8,286.5 L411.1,286.1 L411.4,285.9 L411.7,286.1 L412.0,285.3 L412.3,286.4 L412.5,284.8 L412.6,285.7 L412.9,285.2 L413.2,285.9 L413.5,285.3 L413.8,285.7 L414.1,284.1 L414.4,285.9 L414.7,285.5 L415.0,283.4 L415.3,284.3 L415.6,282.7 L415.9,282.5 L416.0,282.2 L416.2,282.7 L416.5,281.8 L416.8,283.6 L417.1,282.2 L417.4,281.9 L417.7,281.9 L418.0,280.4 L418.3,280.6 L418.6,278.7 L418.6,280.7 L418.9,280.0 L419.2,278.7 L419.5,277.2 L419.8,279.5 L420.1,279.3 L420.4,278.9 L420.7,275.3 L421.0,275.1 L421.2,273.5 L421.3,274.4 L421.6,276.2 L421.9,273.5 L422.2,274.2 L422.5,273.5 L422.8,271.2 L423.0,267.0 L423.1,268.6 L423.4,272.7 L423.7,269.6 L424.0,270.2 L424.3,264.2 L424.5,263.0 L424.6,267.8 L424.9,269.0 L425.2,265.8 L425.5,262.0 L425.5,266.0 L425.8,267.9 L426.1,263.9 L426.4,263.8 L426.7,259.8 L427.0,254.7 L427.2,252.5 L427.3,258.1 L427.6,255.8 L427.9,253.9 L428.2,239.0 L428.2,246.4 L428.5,254.4 L428.8,256.8 L429.1,250.6 L429.2,250.0 L429.4,250.9 L429.7,257.3 L429.9,245.0 L430.0,254.8 L430.3,249.3 L430.6,232.3 L430.9,241.6 L431.2,214.7 L431.2,219.0 L431.5,228.8 L431.8,245.3 L432.1,253.5 L432.2,245.7 L432.4,245.8 L432.7,254.0 L433.0,244.7 L433.3,247.9 L433.6,244.4 L433.9,238.3 L433.9,251.0 L434.2,247.8 L434.5,242.5 L434.8,254.8 L435.1,250.0 L435.4,257.2 L435.6,245.7 L435.7,249.2 L436.0,249.6 L436.3,253.3 L436.6,255.7 L436.9,251.5 L437.2,259.7 L437.3,252.5 L437.5,262.2 L437.8,260.8 L438.1,260.7 L438.4,264.5 L438.7,261.0 L439.0,257.6 L439.0,259.4 L439.3,261.5 L439.6,267.3 L439.9,261.9 L440.2,265.2 L440.5,265.3 L440.7,262.6 L440.8,270.0 L441.1,268.7 L441.4,267.8 L441.7,267.4 L442.0,267.6 L442.3,266.8 L442.4,266.0 L442.6,269.7 L442.9,271.5 L443.2,272.7 L443.5,271.3 L443.8,271.1 L444.1,273.0 L444.4,276.3 L444.7,276.0 L445.0,277.6 L445.1,273.4 L445.3,276.7 L445.6,277.1 L445.9,278.9 L446.2,277.3 L446.5,278.1 L446.8,278.8 L447.1,279.5 L447.4,279.5 L447.4,280.0 L447.7,282.3 L448.0,281.5 L448.3,281.9 L448.6,282.1 L448.9,281.6 L449.2,281.9 L449.5,281.8 L449.8,284.2 L450.1,282.8 L450.4,283.5 L450.7,285.4 L450.8,282.9 L451.0,285.1 L451.3,285.2 L451.6,283.6 L451.9,284.5 L452.2,285.7 L452.5,285.0 L452.8,285.7 L453.1,284.6 L453.4,284.8 L453.7,285.9 L454.0,285.5 L454.3,284.0 L454.6,286.0 L454.9,284.6 L455.2,283.8 L455.5,285.8 L455.8,285.9 L455.9,283.9 L456.1,284.2 L456.4,285.2 L456.7,284.6 L457.0,284.8 L457.3,285.8 L457.6,284.3 L457.9,286.0 L458.2,285.1 L458.5,284.9 L458.8,284.9 L459.1,285.1 L459.4,284.1 L459.7,284.1 L460.0,284.8 L460.3,284.7 L460.6,285.7 L460.9,283.2 L461.2,284.6 L461.5,285.2 L461.8,285.4 L462.1,283.6 L462.4,284.4 L462.6,282.9 L462.7,284.3 L463.0,284.8 L463.3,282.9 L463.6,282.2 L463.9,281.6 L464.2,282.1 L464.5,281.1 L464.8,281.3 L465.1,280.8 L465.4,279.3 L465.7,280.4 L466.0,279.1 L466.2,276.5 L466.3,279.8 L466.6,277.3 L466.9,277.1 L467.2,278.7 L467.5,277.2 L467.7,274.4 L467.8,275.8 L468.1,278.2 L468.4,278.4 L468.7,280.1 L468.8,279.0 L469.0,280.4 L469.3,278.1 L469.6,278.7 L469.9,277.8 L470.0,273.4 L470.2,275.9 L470.5,277.1 L470.8,280.7 L471.0,279.0 L471.1,279.3 L471.4,279.3 L471.7,277.2 L472.0,278.2 L472.1,276.1 L472.3,278.1 L472.6,277.7 L472.9,277.8 L473.2,279.1 L473.5,280.3 L473.8,280.2 L474.1,281.1 L474.4,279.5 L474.4,280.0 L474.7,281.9 L475.0,281.8 L475.3,280.6 L475.6,281.2 L475.9,282.6 L476.2,281.8 L476.5,281.9 L476.8,283.0 L477.1,282.2 L477.4,282.6 L477.7,282.7 L478.0,283.0 L478.3,281.9 L478.3,282.7 L478.6,283.7 L478.9,282.5 L479.2,282.1 L479.5,284.3 L479.8,284.6 L480.1,284.2 L480.4,284.7 L480.7,284.2 L481.0,284.2 L481.3,284.4 L481.6,282.5 L481.9,282.7 L482.2,283.2 L482.5,284.3 L482.8,284.0 L483.1,285.1 L483.4,284.5 L483.6,282.6 L483.7,284.0 L484.0,283.0 L484.3,285.2 L484.6,283.5 L484.9,285.1 L485.2,285.8 L485.5,285.5 L485.8,283.8 L486.1,284.7 L486.4,284.6 L486.7,284.8 L487.0,284.7 L487.3,286.2 L487.6,285.2 L487.9,285.4 L488.2,285.0 L488.5,285.7 L488.8,284.9 L489.1,285.3 L489.4,286.5 L489.7,285.3 L490.0,286.2 L490.3,286.3 L490.4,285.3 L490.6,286.2 L490.9,285.6 L491.2,285.7 L491.5,286.5 L491.8,285.9 L492.1,286.2 L492.4,286.4 L492.7,286.3 L493.0,286.2 L493.3,286.4 L493.6,286.4 L493.9,286.4 L494.2,286.4 L494.5,286.4 L494.8,286.6 L495.1,286.7 L495.4,286.6 L495.7,286.7 L496.0,286.9 L496.3,286.8 L496.6,286.8 L496.9,286.9 L497.1,286.6 L497.2,286.9 L497.5,286.7 L497.8,286.7 L498.1,286.8 L498.4,286.8 L498.7,286.7 L499.0,286.9 L499.3,286.9 L499.6,287.0 L499.9,286.6 L500.2,286.9 L500.5,286.7 L500.8,286.8 L501.1,286.8 L501.4,286.8 L501.7,287.0 L502.0,286.9 L502.3,286.9 L502.6,286.8 L502.9,287.0 L503.2,286.9 L503.5,286.9 L503.8,286.7 L504.1,286.8 L504.4,286.8 L504.7,286.9 L505.0,286.9 L505.3,286.9 L505.6,286.7 L505.9,286.8 L506.2,286.8 L506.5,286.7 L506.8,286.9 L507.1,286.7 L507.4,286.8 L507.7,286.9 L508.0,286.9 L508.3,286.9 L508.6,286.6 L508.9,286.9 L509.2,286.6" fill="none" stroke="#f1ad5e" stroke-width="0.7" stroke-opacity="0.85" stroke-linejoin="round"/>
</g>
<path d="M390.6,188.3h3M390.6,204.9h3M390.6,221.5h3M390.6,238.1h3M390.6,254.7h3M390.6,271.3h3M390.6,287.9h3M392.1,291v-3M421.7,291v-3M451.4,291v-3M480.2,291v-3M509.4,291v-3" stroke="#8a8a8a" stroke-width="1" fill="none"/>
<text class="lt" x="365.5" y="177">F</text>
<text class="ti" x="429.5" y="182.9" style="font-size:12.9px">HPV-52</text>
<text class="tk" x="386.4" y="192.8" text-anchor="end">3.0</text>
<text class="tk" x="386.4" y="209.3" text-anchor="end">2.5</text>
<text class="tk" x="386.4" y="225.7" text-anchor="end">2.0</text>
<text class="tk" x="386.4" y="242.1" text-anchor="end">1.5</text>
<text class="tk" x="386.4" y="258.6" text-anchor="end">1.0</text>
<text class="tk" x="386.4" y="275.0" text-anchor="end">0.5</text>
<text class="tk" x="386.4" y="291.4" text-anchor="end">0.0</text>
<text class="tk" x="392.1" y="302.7" text-anchor="middle">0</text>
<text class="tk" x="421.5" y="302.7" text-anchor="middle">100</text>
<text class="tk" x="451.1" y="302.7" text-anchor="middle">200</text>
<text class="tk" x="480.7" y="302.7" text-anchor="middle">300</text>
<text class="tk" x="509.9" y="302.7" text-anchor="middle">400</text>
<path d="M101.2,39.4H113.8" stroke="#86abcc" stroke-width="1.2"/>
<path d="M101.2,49.5H113.8" stroke="#dc9f72" stroke-width="1.2"/>
<text class="lg" x="116.9" y="41.6">Human cfDNA</text>
<text class="lg" x="116.9" y="51.9">HPV ctDNA</text>
<text class="al" text-anchor="middle" transform="translate(17.6,74.3) rotate(-90)">Frequency (%)</text>
<text class="al" text-anchor="middle" transform="translate(17.7,237.6) rotate(-90)">Frequency (%)</text>
<text class="al" x="254.1" y="320.5" text-anchor="middle">Fragment length (bp)</text>
</svg></body></html>
